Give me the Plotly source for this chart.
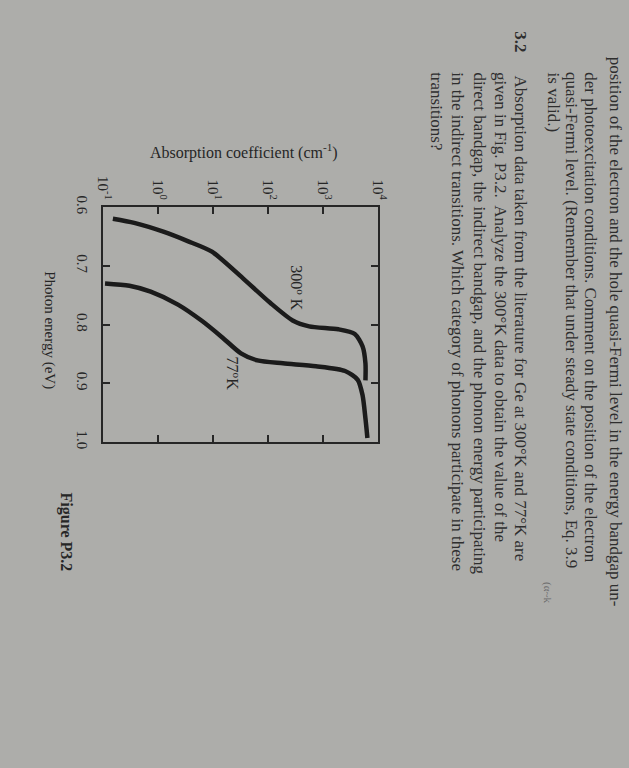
import plotly.graph_objects as go

W, H = 629, 768

e_300 = [0.620, 0.627, 0.642, 0.658, 0.676, 0.723, 0.763, 0.793, 0.803, 0.808, 0.816, 0.837, 0.866, 0.895]
a_300 = [0.150, 0.367, 1.24, 3.44, 9.5, 36.5, 109, 279, 557, 1890, 3770, 5210, 5890, 5890]
e_77 = [0.730, 0.734, 0.744, 0.766, 0.794, 0.821, 0.849, 0.861, 0.866, 0.871, 0.879, 0.894, 0.920, 0.960, 0.993]
a_77 = [0.108, 0.30, 0.73, 2.29, 6.3, 14.3, 32, 64, 186, 740, 2510, 4260, 5210, 5890, 6390]

alpha_ticks = [0.1, 1, 10, 100, 1000, 10000]
alpha_labels = ["10<sup>-1</sup>", "10<sup>0</sup>", "10<sup>1</sup>", "10<sup>2</sup>", "10<sup>3</sup>", "10<sup>4</sup>"]
energy_ticks = [0.6, 0.7, 0.8, 0.9, 1.0]
energy_labels = ["0.6", "0.7", "0.8", "0.9", "1.0"]

# page text (printed sideways in the photo), one entry per printed line
page_lines = [
    "position of the electron and the hole quasi-Fermi level in the energy bandgap un-",
    "der photoexcitation conditions. Comment on the position of the electron",
    "quasi-Fermi level. (Remember that under steady state conditions, Eq. 3.9",
    "is valid.)",
    "Absorption data taken from the literature for Ge at 300°K and 77°K are",
    "given in Fig. P3.2.  Analyze the 300°K data to obtain the value of the",
    "direct bandgap, the indirect bandgap, and the phonon energy participating",
    "in the indirect transitions. Which category of phonons participate in these",
    "transitions?",
]
# pixel column and start/end of each line
line_x = [625, 600, 580, 562, 528, 507, 485, 463, 441]
line_y = [612, 60, 60, 60, 63, 60, 60, 60, 60]
line_anchor = ["bottom", "top", "top", "top", "top", "top", "top", "top", "top"]


def px(x):
    return x / W


def py(y):
    return 1 - y / H


ink = "#262626"
paper = "#adadaa"
serif = "Liberation Serif"

fig = go.Figure()
fig.add_trace(go.Scatter(x=a_300, y=e_300, mode="lines",
                         line=dict(color="#1b1b1b", width=4.5, shape="spline", smoothing=0.7),
                         showlegend=False, hoverinfo="skip"))
fig.add_trace(go.Scatter(x=a_77, y=e_77, mode="lines",
                         line=dict(color="#1b1b1b", width=4.5, shape="spline", smoothing=0.7),
                         showlegend=False, hoverinfo="skip"))

annotations = []
for txt, x, y, anc in zip(page_lines, line_x, line_y, line_anchor):
    annotations.append(dict(text=txt, x=px(x), y=py(y), xanchor="center", yanchor=anc,
                            font=dict(family=serif, size=17, color="#2e2e2e")))

annotations += [
    dict(text="<b>3.2</b>", x=px(528), y=py(18), xanchor="center", yanchor="top",
         font=dict(family=serif, size=17, color="#2e2e2e")),
    dict(text="(α~k", x=px(556), y=py(582), xanchor="center", yanchor="top",
         font=dict(family=serif, size=11, color="#6a6a6a")),
    dict(text="Absorption coefficient (cm<sup>-1</sup>)", x=px(243), y=py(143), textangle=0,
         xanchor="center", yanchor="middle", font=dict(family=serif, size=16, color=ink)),
    dict(text="Photon energy (eV)", x=px(42), y=py(326), xanchor="center", yanchor="middle",
         font=dict(family=serif, size=15, color=ink)),
    dict(text="<b>Figure P3.2</b>", x=px(60), y=py(533), xanchor="center", yanchor="middle",
         font=dict(family=serif, size=16, color=ink)),
]
for a in annotations:
    a.setdefault("xref", "paper")
    a.setdefault("yref", "paper")
    a.setdefault("showarrow", False)
    a.setdefault("textangle", 90)

# curve labels sit in data space (log axis takes log10 units)
annotations += [
    dict(text="300<sup>o</sup> K", x=2.534, y=0.739, xref="x", yref="y", textangle=90,
         showarrow=False, font=dict(family=serif, size=16, color=ink)),
    dict(text="77<sup>o</sup>K", x=1.367, y=0.884, xref="x", yref="y", textangle=90,
         showarrow=False, font=dict(family=serif, size=16, color=ink)),
]

fig.update_layout(
    width=W, height=H,
    margin=dict(l=0, r=0, t=0, b=0),
    paper_bgcolor=paper,
    plot_bgcolor=paper,
    annotations=annotations,
    xaxis=dict(type="log", range=[-1, 4], domain=[px(98), px(381)], side="top",
               tickvals=alpha_ticks, ticktext=alpha_labels, tickangle=90,
               ticks="inside", ticklen=7, tickwidth=1.5, tickcolor=ink,
               showline=True, linewidth=2, linecolor=ink, mirror="ticks",
               showgrid=False, zeroline=False,
               tickfont=dict(family=serif, size=15, color=ink)),
    yaxis=dict(range=[1.0, 0.6], domain=[py(441), py(200)],
               tickvals=energy_ticks, ticktext=energy_labels, tickangle=90,
               ticks="inside", ticklen=7, tickwidth=1.5, tickcolor=ink,
               showline=True, linewidth=2, linecolor=ink, mirror="ticks",
               showgrid=False, zeroline=False, ticklabelstandoff=6,
               tickfont=dict(family=serif, size=15, color=ink)),
)

fig.write_html("out.html", config={"displayModeBar": False},
               post_script="document.body.style.margin='0';document.body.style.background='%s';" % paper)
